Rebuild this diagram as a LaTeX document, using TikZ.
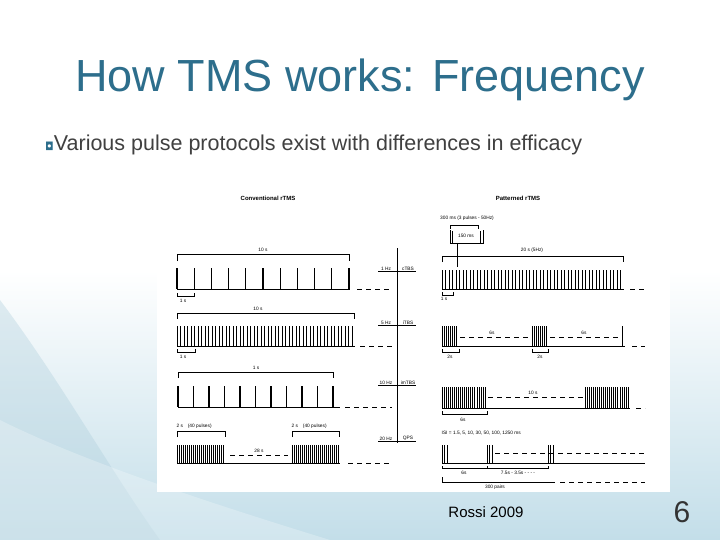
\documentclass[tikz,border=0pt]{standalone}
\usepackage{fontspec}
\setmainfont{Liberation Sans}
\newfontfamily\djv{DejaVu Sans}
\begin{document}
\begin{tikzpicture}[x=1pt,y=-1pt,
  pl/.style={line width=1.1pt},
  dl/.style={line width=0.7pt},
  thinl/.style={line width=0.5pt},
  ds/.style={dashed,dash pattern=on 5pt off 4pt,line width=0.6pt},
  lab/.style={font=\fontsize{4.8}{5}\selectfont,inner sep=0.5pt}]
\definecolor{ttl}{RGB}{45,110,140}
\definecolor{bgb}{RGB}{195,222,233}
\useasboundingbox (0,0) rectangle (720,540);
\shade[top color=white,bottom color=bgb,middle color=white] (0,0) rectangle (720,540);
\fill[bgb!85!ttl,opacity=0.35] (0,540) -- (0,300) .. controls (60,380) and (110,470) .. (160,540) -- cycle;
\fill[white,opacity=0.25] (0,540) -- (0,420) .. controls (80,460) and (200,500) .. (330,540) -- cycle;
\node[text=ttl,font=\fontsize{45}{50}\selectfont] (title) at (360,80) {How TMS works: Frequency};
\node[anchor=west,text=black!75,font=\fontsize{21.5}{24}\selectfont,inner sep=0] (bul) at (45,145) {\textcolor{ttl}{\djv\fontsize{11}{12}\selectfont ◘}Various pulse protocols exist with differences in efficacy};
\node[font=\fontsize{15}{18}\selectfont] (ref) at (486,512) {Rossi 2009};
\node[text=black!80,font=\fontsize{30}{34}\selectfont] (pg) at (682,512) {6};
% figure
\fill[white] (157,182) rectangle (670,492);
\node[lab,font=\bfseries\fontsize{6}{7}\selectfont] (h1) at (268,198) {Conventional rTMS};
\node[lab,font=\bfseries\fontsize{6}{7}\selectfont] (h2) at (518,198) {Patterned rTMS};
% axis
\draw[thinl] (397,248) -- (397,443);
\foreach \y/\a/\b in {271/1 Hz/cTBS,325/5 Hz/iTBS,385/10 Hz/imTBS,441/20 Hz/QPS}{
  \draw[thinl] (378,\y) -- (416,\y);
  \node[lab,anchor=south] at (386,\y) {\a};
  \node[lab,anchor=south] at (408,\y) {\b};
}
% row1
\draw[thinl] (177,261) -- (177,254) -- (349,254) -- (349,261);
\node[lab] at (263,250) {10 s};
\foreach \i in {0,...,10} \draw[pl] (177+17.2*\i,268) -- (177+17.2*\i,289);
\draw[thinl] (177,289) -- (350,289); \draw[ds] (357,289) -- (392,289);
\draw[thinl] (177,293) -- (177,296) -- (194,296) -- (194,293);
\node[lab] at (183,301) {1 s};
% row2
\draw[thinl] (177,319) -- (177,313) -- (354,313) -- (354,319);
\node[lab] at (258,309) {10 s};
\foreach \i in {0,...,50} \draw[dl] (177+3.5*\i,326) -- (177+3.5*\i,346);
\draw[thinl] (177,346) -- (355,346); \draw[ds] (360,346) -- (392,346);
\draw[thinl] (177,349) -- (177,352) -- (195,352) -- (195,349);
\node[lab] at (183,357) {1 s};
% row3
\draw[thinl] (178,378) -- (178,372) -- (333,372) -- (333,378);
\node[lab] at (256,368) {1 s};
\foreach \i in {0,...,10} \draw[pl] (178+15.5*\i,386) -- (178+15.5*\i,407);
\draw[thinl] (178,407) -- (340,407); \draw[ds] (345,407) -- (392,407);
% row4
\draw[thinl] (177,437) -- (177,431) -- (225,431) -- (225,437);
\draw[thinl] (292,437) -- (292,431) -- (339,431) -- (339,437);
\node[lab,anchor=south west] at (176,429) {2 s\quad(40 pulses)};
\node[lab,anchor=south west] at (291,429) {2 s\quad(40 pulses)};
\foreach \x in {177,292}{\foreach \i in {0,...,23} \draw[dl] (\x+2*\i,445) -- (\x+2*\i,463);}
\draw[ds] (230,455) -- (288,455);
\node[lab,fill=white] at (259,451) {28 s};
\draw[thinl] (177,463) -- (340,463); \draw[ds] (348,463) -- (392,463);
% right cTBS
\node[lab] at (467,218) {300 ms (3 pulses - 50Hz)};
\draw[thinl] (450,229) -- (450,225) -- (478,225) -- (478,229);
\draw[thinl] (450,230) -- (450,243) -- (483,243) -- (483,230);
\draw[dl] (452,231) -- (452,243); \draw[dl] (480,231) -- (480,243);
\node[lab] at (466,236) {150 ms};
\draw[thinl] (457,243) -- (457,267);
\draw[thinl] (442,262) -- (442,256) -- (623,256) -- (623,262);
\node[lab] at (532,250) {20 s (5Hz)};
\foreach \i in {0,...,51} \draw[dl] (442+3.5*\i,270) -- (442+3.5*\i,289);
\draw[thinl] (442,289) -- (624,289); \draw[ds] (630,289) -- (645,289);
\draw[thinl] (442,292) -- (442,295) -- (453,295) -- (453,292);
\node[lab] at (444,299) {1 s};
% iTBS
\foreach \x/\n in {442/8,532/8,622/1}{\foreach \i in {1,...,\n} \draw[dl] (\x+2.1*\i-2.1,326) -- (\x+2.1*\i-2.1,346);}
\draw[ds] (460,337) -- (530,337); \draw[ds] (550,337) -- (620,337);
\node[lab] at (492,333) {6s}; \node[lab] at (584,333) {6s};
\draw[thinl] (442,346) -- (625,346); \draw[ds] (632,346) -- (645,346);
\draw[thinl] (442,349) -- (442,352) -- (459,352) -- (459,349);
\draw[thinl] (532,349) -- (532,352) -- (548,352) -- (548,349);
\node[lab] at (450,357) {2s}; \node[lab] at (540,357) {2s};
% imTBS
\foreach \x in {442,585}{\foreach \i in {0,...,21} \draw[dl] (\x+2.05*\i,387) -- (\x+2.05*\i,408);}
\draw[ds] (488,397) -- (583,397);
\node[lab] at (533,393) {10 s};
\draw[thinl] (442,408) -- (630,408); \draw[ds] (636,408) -- (645,408);
\draw[thinl] (442,411) -- (442,414) -- (487,414) -- (487,411);
\node[lab] at (463,420) {6s};
% QPS
\node[lab,anchor=west] at (441,433) {ISI = 1.5, 5, 10, 30, 50, 100, 1250 ms};
\foreach \x in {442,487,548}{\draw[dl] (\x,445) -- (\x,463); \draw[dl] (\x+2.5,445) -- (\x+2.5,463); \draw[dl] (\x+5,445) -- (\x+5,463);}
\draw[ds] (495,453) -- (645,453);
\draw[thinl] (442,463) -- (645,463);
\draw[thinl] (442,466) -- (442,469); \draw[thinl] (487,466) -- (487,469); \draw[thinl] (548,466) -- (548,469);
\draw[thinl] (442,468) -- (548,468);
\node[lab,fill=white] at (464,473) {6s};
\node[lab,fill=white] at (518,473) {7.5s - 3.5s - - - -};
\draw[thinl] (442,477) -- (442,482) -- (555,482); \draw[ds] (560,482) -- (645,482);
\node[lab] at (495,487) {300 pairs};
\end{tikzpicture}
\end{document}
